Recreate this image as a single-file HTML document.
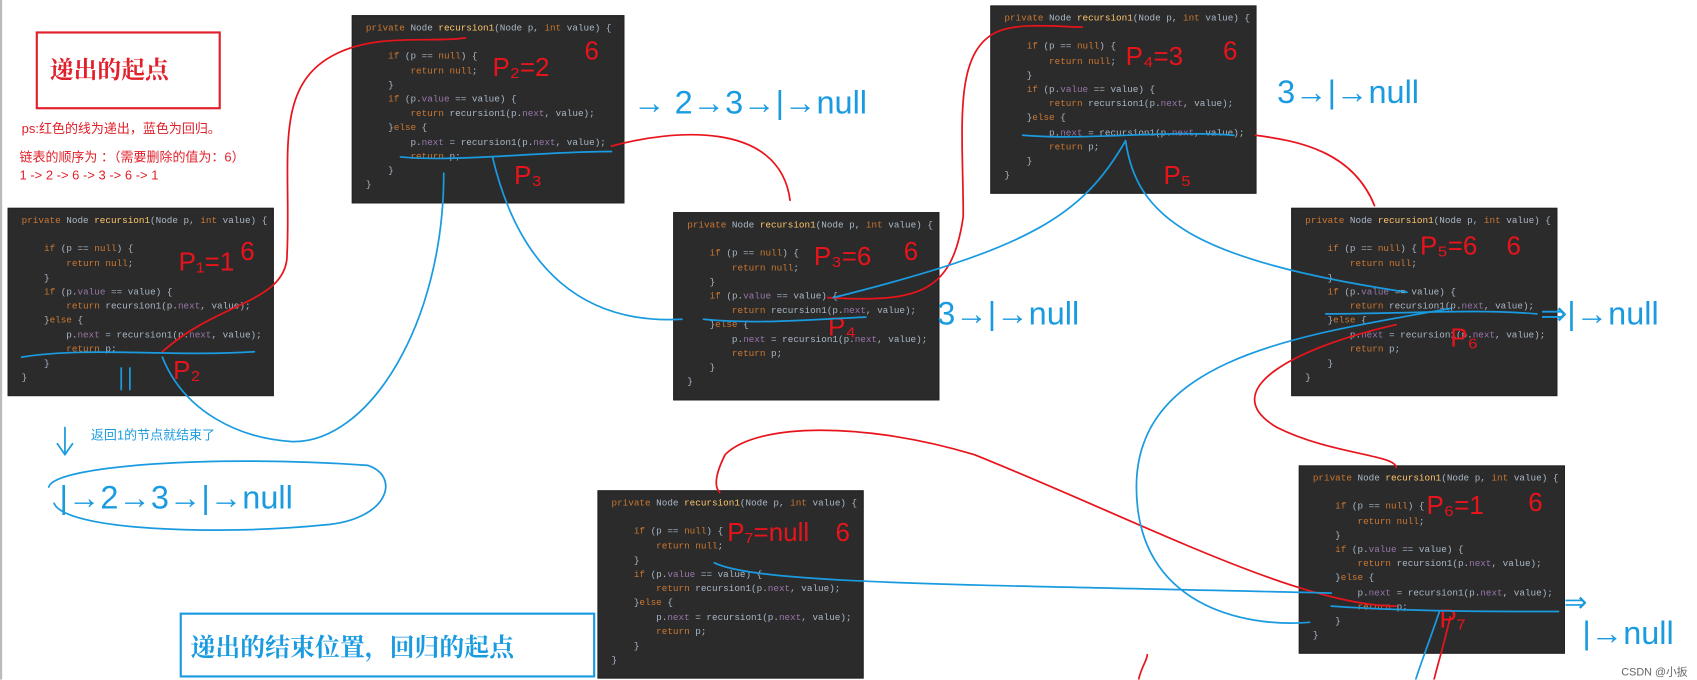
<!DOCTYPE html>
<html><head><meta charset="utf-8"><style>
body{margin:0;width:1697px;height:680px;background:#fff;overflow:hidden;font-family:"Liberation Sans","Noto Sans CJK SC",sans-serif}
#w{position:absolute;left:0;top:0;width:1568px;height:628px;transform:scale(1.0823);transform-origin:0 0;overflow:hidden}
.box{position:absolute;width:244px;height:172px;background:#2b2b2b;border:1px solid #222}
.box pre{margin:0;position:absolute;left:12px;top:5px;font-family:"Liberation Mono",monospace;font-size:8.6px;line-height:13.2px;color:#a9b7c6}
.k{color:#cc7832}.f{color:#ffc66d}.p{color:#9876aa}
.t{position:absolute;white-space:nowrap}
svg{position:absolute;left:0;top:0;overflow:hidden}
</style></head><body><div id="w">
<div style="position:absolute;left:0;top:0;width:2px;height:628px;background:#bbb"></div>
<div style="position:absolute;left:33px;top:29px;width:167px;height:68px;border:2px solid #e0202a"></div>
<div class="t" style="left:46px;top:48px;font-size:22px;font-weight:bold;color:#e0202a;font-family:'Noto Serif CJK SC',serif">递出的起点</div>
<div class="t" style="left:20px;top:110px;font-size:12px;color:#e0202a">ps:红色的线为递出，蓝色为回归。</div>
<div class="t" style="left:18px;top:136px;font-size:12px;color:#e0202a">链表的顺序为 ：（需要删除的值为：6）</div>
<div class="t" style="left:18px;top:155px;font-size:12px;color:#e0202a">1 -&gt; 2 -&gt; 6 -&gt; 3 -&gt; 6 -&gt; 1</div>
<div class="t" style="left:84px;top:393px;font-size:12px;color:#1a9be0">返回1的节点就结束了</div>
<div style="position:absolute;left:166px;top:566px;width:380px;height:56px;border:2px solid #1a9be0"></div>
<div class="t" style="left:176px;top:580px;font-size:23px;font-weight:bold;color:#1a9be0;font-family:'Noto Serif CJK SC',serif">递出的结束位置，回归的起点</div>
<div class="t" style="left:1498px;top:612px;font-size:10px;color:#666">CSDN @小扳</div>

<div class="box" style="left:7px;top:192px"><pre><span class="k">private</span> Node <span class="f">recursion1</span>(Node p, <span class="k">int</span> value) {

    <span class="k">if</span> (p == <span class="k">null</span>) {
        <span class="k">return null</span>;
    }
    <span class="k">if</span> (p.<span class="p">value</span> == value) {
        <span class="k">return</span> recursion1(p.<span class="p">next</span>, value);
    }<span class="k">else</span> {
        p.<span class="p">next</span> = recursion1(p.<span class="p">next</span>, value);
        <span class="k">return</span> p;
    }
}</pre></div>
<div class="box" style="left:325px;top:14px;width:250px"><pre><span class="k">private</span> Node <span class="f">recursion1</span>(Node p, <span class="k">int</span> value) {

    <span class="k">if</span> (p == <span class="k">null</span>) {
        <span class="k">return null</span>;
    }
    <span class="k">if</span> (p.<span class="p">value</span> == value) {
        <span class="k">return</span> recursion1(p.<span class="p">next</span>, value);
    }<span class="k">else</span> {
        p.<span class="p">next</span> = recursion1(p.<span class="p">next</span>, value);
        <span class="k">return</span> p;
    }
}</pre></div>
<div class="box" style="left:622px;top:196px"><pre><span class="k">private</span> Node <span class="f">recursion1</span>(Node p, <span class="k">int</span> value) {

    <span class="k">if</span> (p == <span class="k">null</span>) {
        <span class="k">return null</span>;
    }
    <span class="k">if</span> (p.<span class="p">value</span> == value) {
        <span class="k">return</span> recursion1(p.<span class="p">next</span>, value);
    }<span class="k">else</span> {
        p.<span class="p">next</span> = recursion1(p.<span class="p">next</span>, value);
        <span class="k">return</span> p;
    }
}</pre></div>
<div class="box" style="left:915px;top:5px"><pre><span class="k">private</span> Node <span class="f">recursion1</span>(Node p, <span class="k">int</span> value) {

    <span class="k">if</span> (p == <span class="k">null</span>) {
        <span class="k">return null</span>;
    }
    <span class="k">if</span> (p.<span class="p">value</span> == value) {
        <span class="k">return</span> recursion1(p.<span class="p">next</span>, value);
    }<span class="k">else</span> {
        p.<span class="p">next</span> = recursion1(p.<span class="p">next</span>, value);
        <span class="k">return</span> p;
    }
}</pre></div>
<div class="box" style="left:1193px;top:192px"><pre><span class="k">private</span> Node <span class="f">recursion1</span>(Node p, <span class="k">int</span> value) {

    <span class="k">if</span> (p == <span class="k">null</span>) {
        <span class="k">return null</span>;
    }
    <span class="k">if</span> (p.<span class="p">value</span> == value) {
        <span class="k">return</span> recursion1(p.<span class="p">next</span>, value);
    }<span class="k">else</span> {
        p.<span class="p">next</span> = recursion1(p.<span class="p">next</span>, value);
        <span class="k">return</span> p;
    }
}</pre></div>
<div class="box" style="left:1200px;top:430px"><pre><span class="k">private</span> Node <span class="f">recursion1</span>(Node p, <span class="k">int</span> value) {

    <span class="k">if</span> (p == <span class="k">null</span>) {
        <span class="k">return null</span>;
    }
    <span class="k">if</span> (p.<span class="p">value</span> == value) {
        <span class="k">return</span> recursion1(p.<span class="p">next</span>, value);
    }<span class="k">else</span> {
        p.<span class="p">next</span> = recursion1(p.<span class="p">next</span>, value);
        <span class="k">return</span> p;
    }
}</pre></div>
<div class="box" style="left:552px;top:453px"><pre><span class="k">private</span> Node <span class="f">recursion1</span>(Node p, <span class="k">int</span> value) {

    <span class="k">if</span> (p == <span class="k">null</span>) {
        <span class="k">return null</span>;
    }
    <span class="k">if</span> (p.<span class="p">value</span> == value) {
        <span class="k">return</span> recursion1(p.<span class="p">next</span>, value);
    }<span class="k">else</span> {
        p.<span class="p">next</span> = recursion1(p.<span class="p">next</span>, value);
        <span class="k">return</span> p;
    }
}</pre></div>

<svg width="1568" height="628" fill="none" stroke-linecap="round">
<g stroke="#e8141c" stroke-width="1.6">
<path d="M150 325 C200 280 260 280 265 240 C270 150 250 80 310 50 C350 30 400 40 430 35"/>
<path d="M565 135 C620 120 720 110 730 185"/>
<path d="M765 275 C850 280 880 270 890 200 C890 120 880 50 920 30 C940 20 980 25 1000 25"/>
<path d="M1160 125 C1200 130 1250 140 1270 190"/>
<path d="M1290 300 C1200 320 1120 360 1180 395 C1230 420 1290 420 1290 432"/>
<path d="M1290 560 C1200 560 1050 480 900 420 C800 390 700 390 670 420 C660 440 660 450 665 455"/>
<path d="M1340 570 C1333 600 1328 615 1325 628"/>
<path d="M1052 628 C1055 615 1060 610 1060 605"/>
</g>
<g fill="#e8141c" stroke="none" font-family="Liberation Sans" font-size="24">
<text x="455" y="70">P₂=2</text><text x="540" y="55">6</text>
<text x="475" y="170">P₃</text><text x="160" y="350">P₂</text>
<text x="165" y="250">P₁=1</text><text x="222" y="240">6</text>
<text x="752" y="245">P₃=6</text><text x="835" y="240">6</text><text x="765" y="310">P₄</text>
<text x="1040" y="60">P₄=3</text><text x="1130" y="55">6</text><text x="1075" y="170">P₅</text>
<text x="1312" y="235">P₅=6</text><text x="1392" y="235">6</text><text x="1340" y="320">P₆</text>
<text x="1318" y="475">P₆=1</text><text x="1412" y="472">6</text><text x="1330" y="580">P₇</text>
<text x="672" y="500">P₇=null</text><text x="772" y="500">6</text>
</g>
<g stroke="#1a9be0" stroke-width="1.6">
<path d="M20 330 C80 320 160 330 235 325"/>
<path d="M370 145 C420 150 500 140 565 140"/>
<path d="M650 295 C700 300 750 295 800 293"/>
<path d="M945 125 C1000 130 1080 120 1140 125"/>
<path d="M1225 290 C1300 290 1360 285 1420 290"/>
<path d="M1230 560 C1300 565 1380 565 1440 565"/>
<path d="M410 160 C410 300 340 410 270 408 C220 405 170 380 150 330"/>
<path d="M455 145 C480 250 540 300 630 295"/>
<path d="M1040 130 C1000 200 950 230 770 275"/>
<path d="M1040 130 C1050 200 1100 240 1300 270"/>
<path d="M1340 285 C1200 310 1050 330 1050 450 C1050 560 1150 580 1210 575"/>
<path d="M660 520 C700 540 900 540 1230 548"/>
<path d="M1330 565 C1318 600 1312 615 1308 628"/>
<path d="M45 450 C50 430 200 420 340 430 C370 440 360 480 300 485 C200 495 60 490 50 465"/>
<path d="M60 395 L60 418 M53 410 L60 420 L67 410"/>
<path d="M112 340 L112 360 M120 340 L120 360"/>
</g>
<g fill="#1a9be0" stroke="none" font-family="Liberation Sans" font-size="30">
<text x="585" y="105">→ 2→3→|→null</text>
<text x="1180" y="95">3→|→null</text>
<text x="866" y="300">3→|→null</text>
<text x="1423" y="300">⇒|→null</text>
<text x="1445" y="565" font-size="26">⇒</text>
<text x="1462" y="595">|→null</text>
<text x="55" y="470">|→2→3→|→null</text>
</g>
</svg>
</div></body></html>
